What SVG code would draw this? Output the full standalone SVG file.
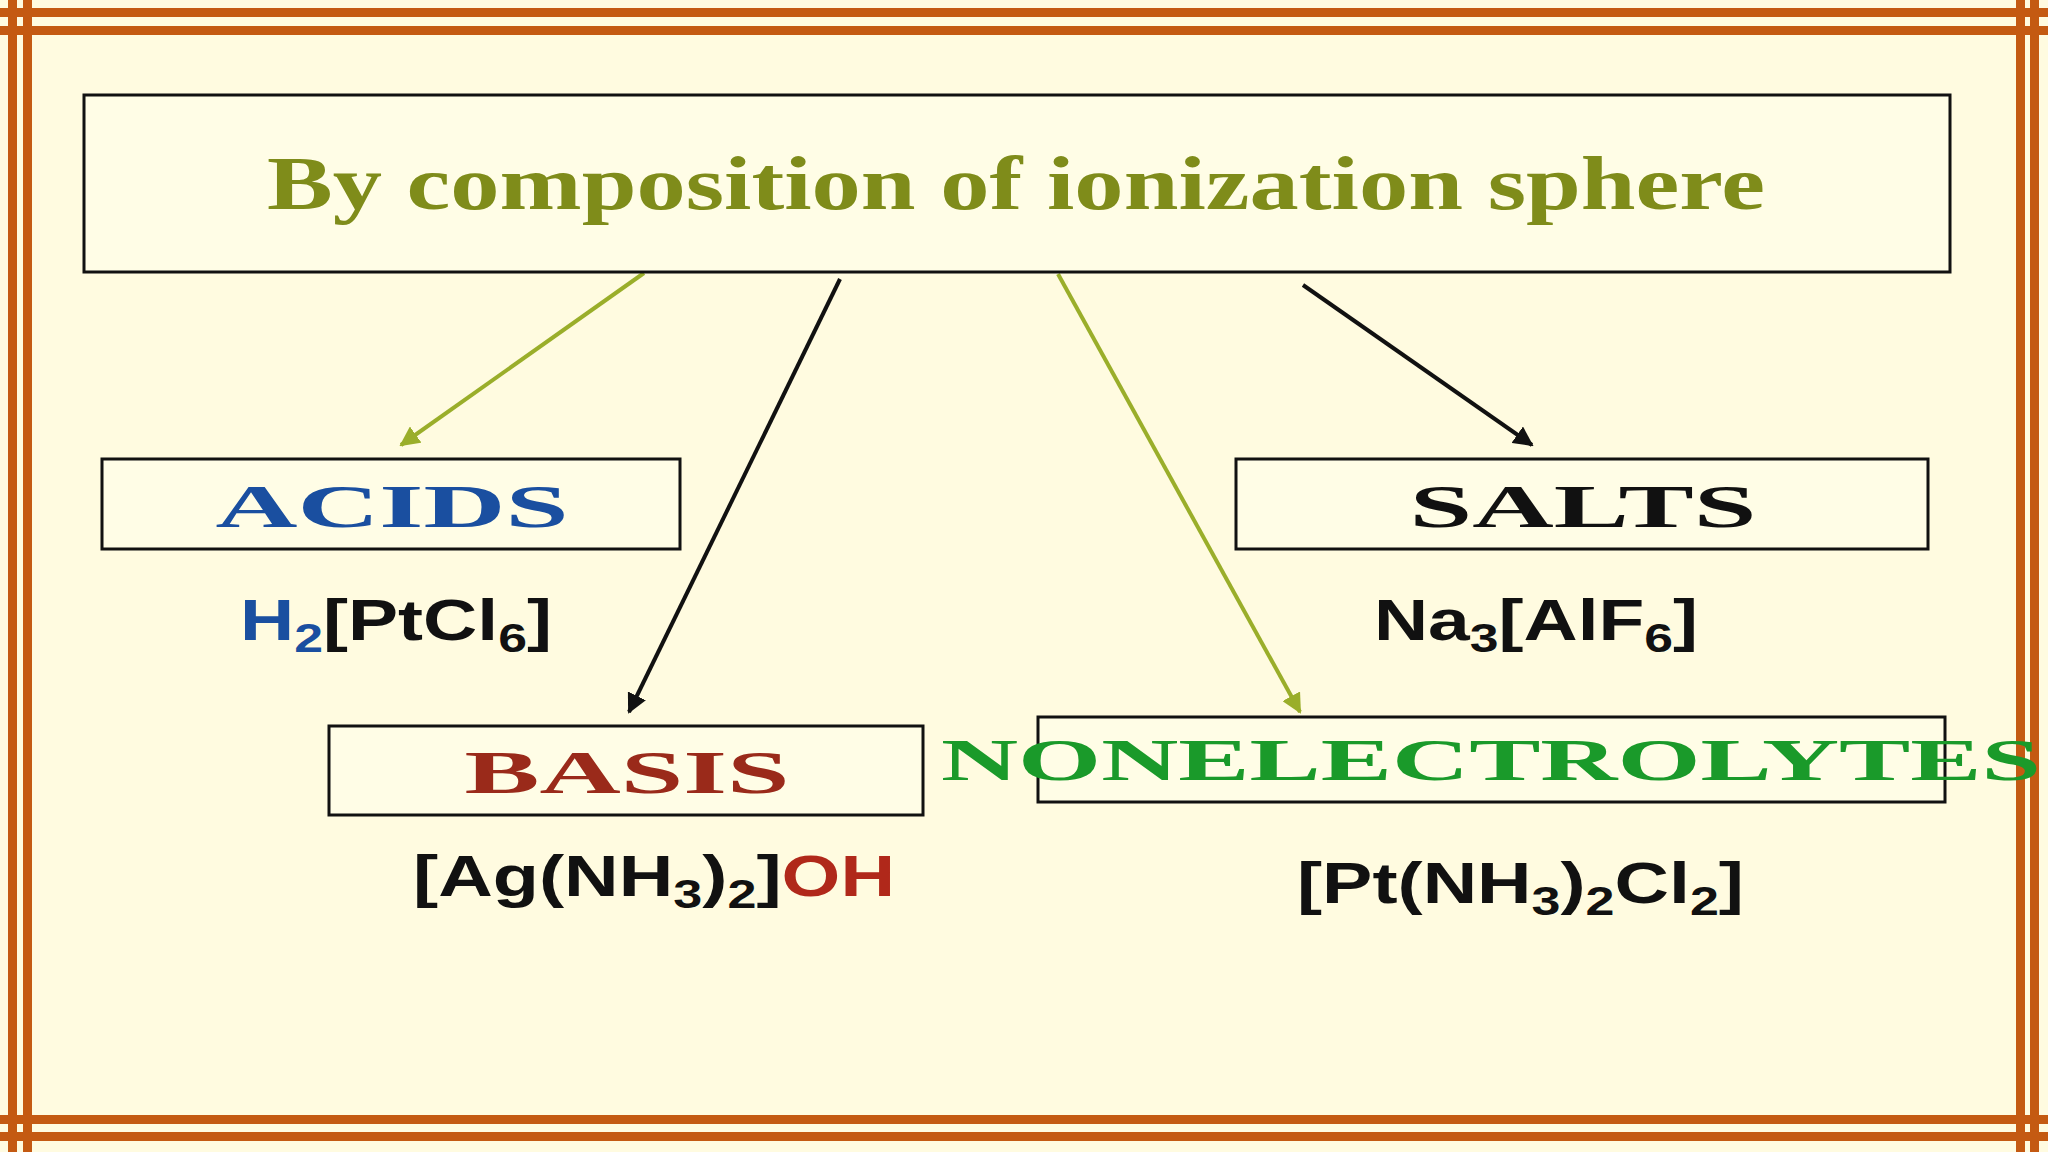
<svg xmlns="http://www.w3.org/2000/svg" width="2048" height="1152" viewBox="0 0 2048 1152">
<defs>
<style>
.box{fill:#fffde6;stroke:#111;stroke-width:3}
.hd{font-family:"Liberation Serif",serif;font-weight:bold;text-anchor:middle}
.f{font-family:"Liberation Sans",sans-serif;font-weight:bold;font-size:58px;fill:#111}
.b{fill:#c45a12}
</style>
<marker id="ag" viewBox="0 0 10 10" refX="9" refY="5" markerWidth="5" markerHeight="5" orient="auto"><path d="M0,0L10,5L0,10z" fill="#9aae2a"/></marker>
<marker id="ak" viewBox="0 0 10 10" refX="9" refY="5" markerWidth="5" markerHeight="5" orient="auto"><path d="M0,0L10,5L0,10z" fill="#111"/></marker>
</defs>
<rect width="2048" height="1152" fill="#fffbe0"/>
<g id="border">
<rect class="b" x="0" y="8" width="2048" height="9"/>
<rect class="b" x="0" y="26" width="2048" height="9"/>
<rect class="b" x="0" y="1115" width="2048" height="9"/>
<rect class="b" x="0" y="1132" width="2048" height="9"/>
<rect class="b" x="8" y="0" width="9" height="1152"/>
<rect class="b" x="23" y="0" width="9" height="1152"/>
<rect class="b" x="2016" y="0" width="9" height="1152"/>
<rect class="b" x="2030" y="0" width="9" height="1152"/>
</g>
<g id="connectors" stroke-width="4" fill="none">
<line x1="644" y1="273" x2="401" y2="445" stroke="#9aae2a" marker-end="url(#ag)"/>
<line x1="840" y1="279" x2="629" y2="712" stroke="#111" marker-end="url(#ak)"/>
<line x1="1058" y1="274" x2="1300" y2="712" stroke="#9aae2a" marker-end="url(#ag)"/>
<line x1="1303" y1="285" x2="1532" y2="445" stroke="#111" marker-end="url(#ak)"/>
</g>
<g id="title">
<rect class="box" x="84" y="95" width="1866" height="177"/>
<text class="hd" x="1016" y="209" font-size="76" fill="#7f8c1a" textLength="1498" lengthAdjust="spacingAndGlyphs">By composition of ionization sphere</text>
</g>
<g id="acids">
<rect class="box" x="102" y="459" width="578" height="90"/>
<text class="hd" x="392" y="527" font-size="62" fill="#1a4fa0" textLength="353" lengthAdjust="spacingAndGlyphs">ACIDS</text>
<text class="f" x="240" y="640" textLength="312" lengthAdjust="spacingAndGlyphs"><tspan fill="#1a4fa0">H<tspan font-size="40" dy="12">2</tspan></tspan><tspan dy="-12">[PtCl</tspan><tspan font-size="40" dy="12">6</tspan><tspan dy="-12">]</tspan></text>
</g>
<g id="salts">
<rect class="box" x="1236" y="459" width="692" height="90"/>
<text class="hd" x="1583" y="527" font-size="62" fill="#111" textLength="347" lengthAdjust="spacingAndGlyphs">SALTS</text>
<text class="f" x="1374" y="640" textLength="324" lengthAdjust="spacingAndGlyphs">Na<tspan font-size="40" dy="12">3</tspan><tspan dy="-12">[AlF</tspan><tspan font-size="40" dy="12">6</tspan><tspan dy="-12">]</tspan></text>
</g>
<g id="basis">
<rect class="box" x="329" y="726" width="594" height="89"/>
<text class="hd" x="627" y="793" font-size="62" fill="#9a2a1a" textLength="325" lengthAdjust="spacingAndGlyphs">BASIS</text>
<text class="f" x="413" y="896" textLength="482" lengthAdjust="spacingAndGlyphs">[Ag(NH<tspan font-size="40" dy="12">3</tspan><tspan dy="-12">)</tspan><tspan font-size="40" dy="12">2</tspan><tspan dy="-12">]</tspan><tspan fill="#b0281a">OH</tspan></text>
</g>
<g id="nonelectrolytes">
<rect class="box" x="1038" y="717" width="907" height="85"/>
<text class="hd" x="1491" y="780" font-size="60" fill="#1a9a2a" textLength="1100" lengthAdjust="spacingAndGlyphs">NONELECTROLYTES</text>
<text class="f" x="1297" y="903" fill="#1a9a2a" textLength="447" lengthAdjust="spacingAndGlyphs">[Pt(NH<tspan font-size="40" dy="12">3</tspan><tspan dy="-12">)</tspan><tspan font-size="40" dy="12">2</tspan><tspan dy="-12">Cl</tspan><tspan font-size="40" dy="12">2</tspan><tspan dy="-12">]</tspan></text>
</g>
</svg>
